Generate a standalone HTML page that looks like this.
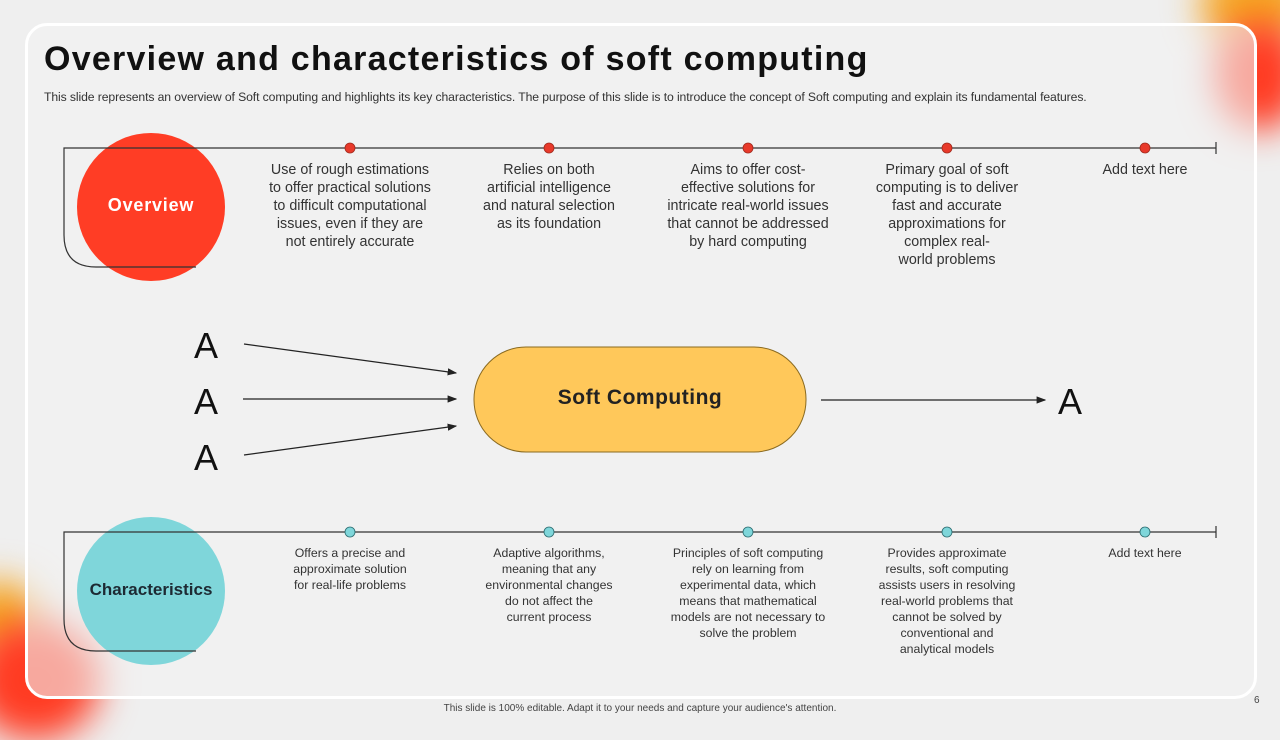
<!DOCTYPE html>
<html><head><meta charset="utf-8"><style>
body{margin:0;width:1280px;height:720px;overflow:hidden;position:relative;background:#efefef;font-family:"Liberation Sans",sans-serif;}
.blob{position:absolute;border-radius:50%;filter:blur(18px);}
.t{position:absolute;text-align:center;color:#333;white-space:nowrap;width:200px;}
.top{font-size:14.3px;line-height:18px;top:161px;}
.bot{font-size:12.3px;line-height:16px;top:545px;}
.A{position:absolute;font-size:36px;color:#111;}
</style></head><body>
<div class="blob" style="left:1200px;top:-40px;width:110px;height:90px;background:#f6a623;"></div>
<div class="blob" style="left:1215px;top:20px;width:90px;height:110px;background:#ff3b22;"></div>
<div class="blob" style="left:-40px;top:580px;width:80px;height:80px;background:#f5a623;"></div>
<div class="blob" style="left:-30px;top:620px;width:130px;height:120px;background:#ff3b22;"></div>
<div style="position:absolute;left:25px;top:23px;width:1226px;height:670px;border:3px solid #fff;border-radius:22px;background:rgba(242,242,242,0.6);"></div>
<div style="position:absolute;left:44px;top:40px;font-size:34px;font-weight:bold;color:#111;letter-spacing:1.25px;">Overview and characteristics of soft computing</div>
<div style="position:absolute;left:44px;top:90px;font-size:12.2px;color:#333;letter-spacing:-0.1px;">This slide represents an overview of Soft computing and highlights its key characteristics. The purpose of this slide is to introduce the concept of Soft computing and explain its fundamental features.</div>
<div style="position:absolute;left:77px;top:133px;width:148px;height:148px;border-radius:50%;background:#ff3d25;"></div>
<div style="position:absolute;left:77px;top:517px;width:148px;height:148px;border-radius:50%;background:#7fd6da;"></div>
<svg style="position:absolute;left:0;top:0" width="1280" height="720">
<defs><marker id="ar" markerWidth="8" markerHeight="8" refX="7" refY="4" orient="auto"><path d="M0,1 L8,4 L0,7z" fill="#222"/></marker></defs>
<g fill="none" stroke="#333" stroke-width="1.2">
<path d="M1216,148 H64 V235 Q64,267 96,267 H196"/>
<path d="M1216,142 V154"/>
<path d="M1216,532 H64 V619 Q64,651 96,651 H196"/>
<path d="M1216,526 V538"/>
</g>
<g fill="#e8392a" stroke="#a02a1e" stroke-width="0.8">
<circle cx="350" cy="148" r="5"/><circle cx="549" cy="148" r="5"/><circle cx="748" cy="148" r="5"/><circle cx="947" cy="148" r="5"/><circle cx="1145" cy="148" r="5"/></g>
<g fill="#7fd6da" stroke="#2a6a6e" stroke-width="0.8">
<circle cx="350" cy="532" r="5"/><circle cx="549" cy="532" r="5"/><circle cx="748" cy="532" r="5"/><circle cx="947" cy="532" r="5"/><circle cx="1145" cy="532" r="5"/></g>
<g stroke="#222" stroke-width="1.2" marker-end="url(#ar)">
<line x1="244" y1="344" x2="456" y2="373"/>
<line x1="243" y1="399" x2="456" y2="399"/>
<line x1="244" y1="455" x2="456" y2="426"/>
<line x1="821" y1="400" x2="1045" y2="400"/>
</g>
<rect x="474" y="347" width="332" height="105" rx="52" fill="#ffc85a" stroke="#8a6a20" stroke-width="1"/>
</svg>
<div style="position:absolute;left:77px;top:195px;width:148px;text-align:center;color:#fff;font-weight:bold;font-size:18px;letter-spacing:0.8px;">Overview</div>
<div style="position:absolute;left:77px;top:580px;width:148px;text-align:center;color:#1d2a33;font-weight:bold;font-size:17px;">Characteristics</div>
<div style="position:absolute;left:474px;top:386px;width:332px;text-align:center;color:#222;font-weight:bold;font-size:21px;letter-spacing:0.5px;">Soft Computing</div>
<div class="A" style="left:194px;top:325px;">A</div>
<div class="A" style="left:194px;top:381px;">A</div>
<div class="A" style="left:194px;top:437px;">A</div>
<div class="A" style="left:1058px;top:381px;">A</div>
<div class="t top" style="left:250px;">Use of rough estimations<br>to offer practical solutions<br>to difficult computational<br>issues, even if they are<br>not entirely accurate</div>
<div class="t top" style="left:449px;">Relies on both<br>artificial intelligence<br>and natural selection<br>as its foundation</div>
<div class="t top" style="left:648px;">Aims to offer cost-<br>effective solutions for<br>intricate real-world issues<br>that cannot be addressed<br>by hard computing</div>
<div class="t top" style="left:847px;">Primary goal of soft<br>computing is to deliver<br>fast and accurate<br>approximations for<br>complex real-<br>world problems</div>
<div class="t top" style="left:1045px;">Add text here</div>
<div class="t bot" style="left:250px;">Offers a precise and<br>approximate solution<br>for real-life problems</div>
<div class="t bot" style="left:449px;">Adaptive algorithms,<br>meaning that any<br>environmental changes<br>do not affect the<br>current process</div>
<div class="t bot" style="left:648px;">Principles of soft computing<br>rely on learning from<br>experimental data, which<br>means that mathematical<br>models are not necessary to<br>solve the problem</div>
<div class="t bot" style="left:847px;">Provides approximate<br>results, soft computing<br>assists users in resolving<br>real-world problems that<br>cannot be solved by<br>conventional and<br>analytical models</div>
<div class="t bot" style="left:1045px;">Add text here</div>
<div style="position:absolute;left:0;width:1280px;top:703px;text-align:center;font-size:10px;color:#444;">This slide is 100% editable. Adapt it to your needs and capture your audience's attention.</div>
<div style="position:absolute;left:1254px;top:695px;font-size:10px;color:#444;">6</div>
</body></html>
